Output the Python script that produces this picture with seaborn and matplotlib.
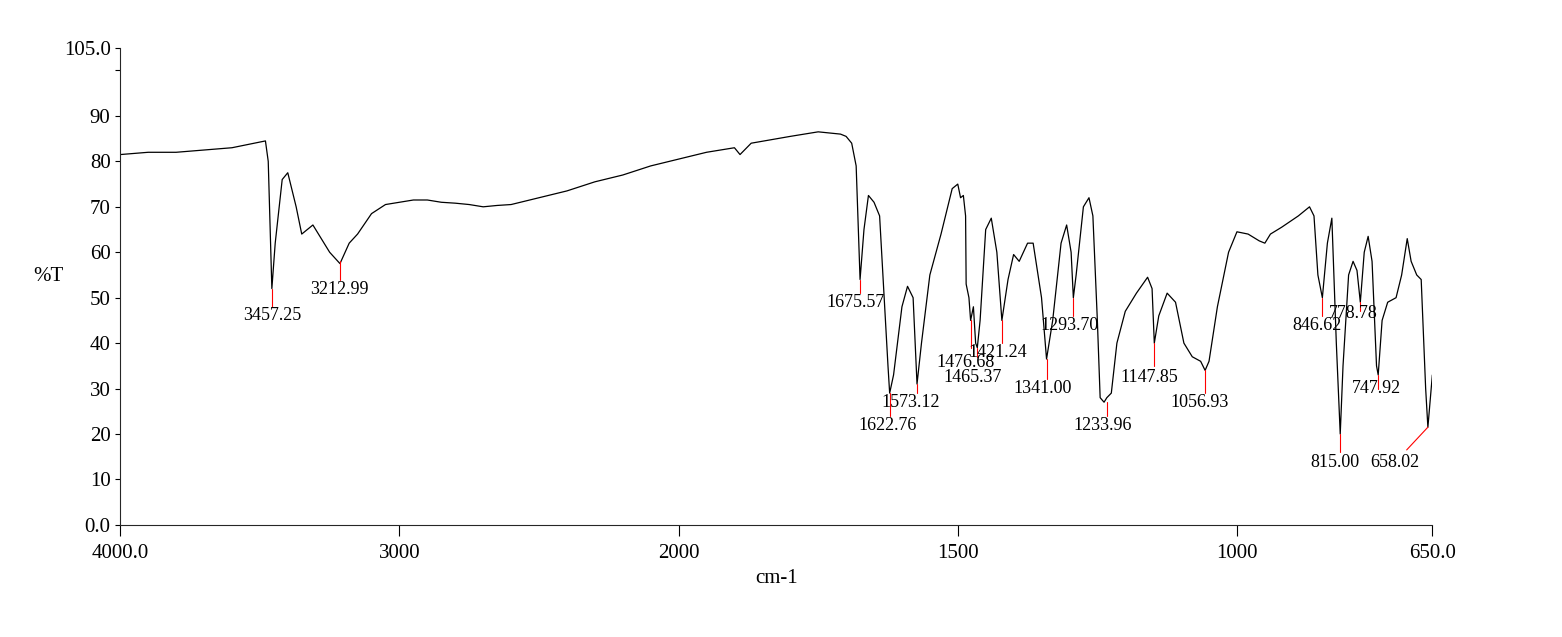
import matplotlib.pyplot as plt
import numpy as np
import seaborn as sns

# key points of the spectrum
wavenumber = [4000, 3900, 3800, 3700, 3600, 3520, 3480, 3470, 3457, 3445, 3420, 3400, 3370, 3350, 3310, 3280,
              3250, 3213, 3180, 3150, 3100, 3050, 3000, 2950, 2900, 2850, 2800, 2750, 2700, 2650, 2600,
              2500, 2400, 2300, 2200, 2100, 2000, 1950, 1900, 1890, 1870, 1800, 1750, 1710, 1700, 1690,
              1682, 1675, 1668, 1660, 1650, 1640, 1625, 1622, 1615, 1600, 1590, 1580, 1573, 1565, 1550,
              1530, 1510, 1500, 1495, 1490, 1486, 1485, 1480, 1477, 1472, 1468, 1465, 1460, 1450, 1440,
              1430, 1421, 1410, 1400, 1390, 1375, 1365, 1350, 1341, 1330, 1315, 1305, 1297, 1293, 1288,
              1275, 1265, 1258, 1250, 1245, 1238, 1233, 1225, 1215, 1200, 1180, 1160, 1152, 1148, 1140,
              1125, 1110, 1095, 1080, 1065, 1057, 1050, 1035, 1015, 1000, 980, 960, 950, 940, 920,
              890, 870, 862, 855, 847, 838, 830, 822, 815, 810, 800, 792, 785, 779, 772, 765,
              758, 750, 747, 740, 730, 715, 705, 695, 688, 678, 670, 662, 658, 650]
transmittance = [81.5, 82, 82, 82.5, 83, 84, 84.5, 80, 52, 62, 76, 77.5, 70, 64, 66, 63,
                 60, 57.5, 62, 64, 68.5, 70.5, 71, 71.5, 71.5, 71, 70.8, 70.5, 70, 70.3, 70.5,
                 72, 73.5, 75.5, 77, 79, 80.5, 82, 83, 81.5, 84, 85.5, 86.5, 86, 85.5, 84,
                 79, 54, 65, 72.5, 71, 68, 35, 29, 33, 48, 52.5, 50, 31, 40, 55,
                 64, 74, 75, 72, 72.5, 68, 53, 50, 45, 48, 40, 39, 45, 65, 67.5,
                 60, 45, 54, 59.5, 58, 62, 62, 50, 36.5, 45, 62, 66, 60, 50, 55,
                 70, 72, 68, 45, 28, 27, 28, 29, 40, 47, 51, 54.5, 52, 40, 46,
                 51, 49, 40, 37, 36, 34, 36, 48, 60, 64.5, 64, 62.5, 62, 64, 65.5,
                 68, 70, 68, 55, 50, 62, 67.5, 40, 20, 35, 55, 58, 56, 49, 60, 63.5,
                 58, 35, 33, 45, 49, 50, 55, 63, 58, 55, 54, 30, 21.5, 33]

peak_labels = ["3457.25", "3212.99", "1675.57", "1622.76", "1573.12", "1476.68", "1465.37", "1421.24",
               "1293.70", "1341.00", "1233.96", "1147.85", "1056.93", "846.62", "778.78", "747.92",
               "815.00", "658.02"]
peak_x = [3457, 3213, 1675, 1622, 1573, 1477, 1465, 1421, 1293, 1341, 1233, 1148, 1057, 847, 779, 748, 815, 658]
peak_top = [52, 58, 54, 29, 31, 45, 39, 45, 50, 36.5, 27, 40, 34, 50, 49, 33, 20, 21.5]
peak_bottom = [48, 54, 51, 24, 29, 39, 37, 40, 46, 32, 24, 35, 29, 46, 47, 30, 16, 16.5]
line_end_x = [3457, 3213, 1675, 1622, 1573, 1477, 1465, 1421, 1293, 1341, 1233, 1148, 1057, 847, 779, 748, 815, 696]
text_x = [3457, 3214, 1684, 1625, 1584, 1486, 1473, 1429, 1300, 1348, 1241, 1157, 1066, 857, 791, 750, 825, 718]
text_y = [46, 51.8, 49, 21.8, 27, 35.8, 32.4, 38, 43.8, 30, 21.8, 32.4, 27, 43.8, 46.5, 30, 13.8, 13.8]


def fwd(x):
    x = np.asarray(x, dtype=float)
    return np.where(x >= 2000, x, 2 * x - 2000)


def inv(y):
    y = np.asarray(y, dtype=float)
    return np.where(y >= 2000, y, (y + 2000) / 2)


sns.set_style("ticks")
plt.rcParams['font.family'] = ['Liberation Serif', 'DejaVu Serif']

fig = plt.figure(figsize=(15.62, 6.37), dpi=100)
ax = fig.add_axes([0.077, 0.176, 0.84, 0.749])
ax.set_xscale('function', functions=(fwd, inv))

sns.lineplot(x=wavenumber, y=transmittance, sort=False, color='black', linewidth=0.9, ax=ax)

for i, lab in enumerate(peak_labels):
    ax.plot([peak_x[i], line_end_x[i]], [peak_top[i], peak_bottom[i]], color='red', linewidth=0.8)
    ax.text(text_x[i], text_y[i], lab, ha='center', va='center', fontsize=13, color='black')

ax.set_xlim(4000, 650)
ax.set_ylim(0, 105)
ax.set_xticks([4000, 3000, 2000, 1500, 1000, 650])
ax.set_xticklabels(["4000.0", "3000", "2000", "1500", "1000", "650.0"], fontsize=15, color='black')
ax.set_yticks([0, 10, 20, 30, 40, 50, 60, 70, 80, 90, 100, 105])
ax.set_yticklabels(["0.0", "10", "20", "30", "40", "50", "60", "70", "80", "90", "", "105.0"],
                   fontsize=15, color='black')
ax.tick_params(axis='x', length=8, pad=6, colors='black')
ax.tick_params(axis='y', colors='black')
ax.set_xlabel("cm-1", fontsize=15, color='black')
ax.set_ylabel("%T", fontsize=15, rotation=0, color='black')
ax.yaxis.set_label_coords(-0.055, 0.5)
ax.minorticks_off()
sns.despine(ax=ax)

fig.savefig("out.png", dpi=100)
